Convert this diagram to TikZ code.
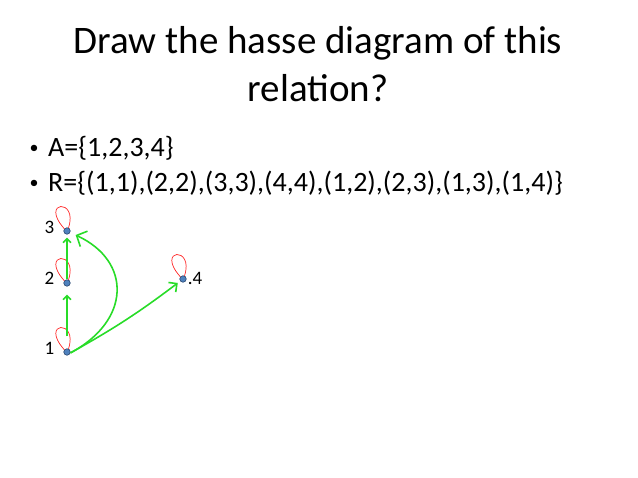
\documentclass[tikz,border=0pt]{standalone}
\usepackage{fontspec}
\setmainfont{Carlito}
\usepackage{xcolor}
\usetikzlibrary{arrows.meta, positioning}

\definecolor{hassegreen}{RGB}{40,220,40}
\definecolor{dotblue}{RGB}{79,129,189}
\definecolor{dotedge}{RGB}{40,70,110}

\begin{document}
\begin{tikzpicture}[x=1pt, y=1pt,
  dot/.style={circle, fill=dotblue, draw=dotedge, line width=0.6pt, inner sep=0pt, minimum size=6.5pt},
  lbl/.style={inner sep=0pt, font=\fontsize{19}{21}\selectfont},
  title/.style={inner sep=0pt, anchor=base, font=\fontsize{39}{46}\selectfont},
  item/.style={inner sep=0pt, font=\fontsize{28}{34}\selectfont},
  hasse/.style={hassegreen, line width=1.6pt, -{Straight Barb[length=4pt, width=8pt]}},
  refl/.style={red!85!white, line width=0.7pt}]
\useasboundingbox (0,0) rectangle (638,478);

% heading and text
\node[title] (t1) at (318,424) {Draw the hasse diagram of this};
\node[title] (t2) at (318,376) {relation?};
\node[item, anchor=base west] (setA) at (48,321) {A=\{1,2,3,4\}};
\node[item, anchor=base, font=\fontsize{18}{22}\selectfont] (b1) at (34,324) {\textbullet};
\node[item, anchor=base west] (relR) at (48,286) {R=\{(1,1),(2,2),(3,3),(4,4),(1,2),(2,3),(1,3),(1,4)\}};
\node[item, anchor=base, font=\fontsize{18}{22}\selectfont] (b2) at (34,289) {\textbullet};

% the elements
\node[dot] (n1) at (67,126) {};
\node[dot] (n2) at (67,195) {};
\node[dot] (n3) at (67,247) {};
\node[dot] (n4) at (183,199) {};
\node[lbl, left=9pt of n1, yshift=4pt] (l1) {1};
\node[lbl, left=9pt of n2, yshift=5pt] (l2) {2};
\node[lbl, left=9pt of n3, yshift=4pt] (l3) {3};
\node[lbl, right=1pt of n4, yshift=1pt] (l4) {.4};

% reflexive pairs
\foreach \n in {n1,n2,n3,n4}
  \draw[refl] (\n.140) .. controls +(-25,28) and +(10,30) .. (\n.65);

% covering pairs
\draw[hasse, shorten <=12pt, shorten >=8pt] (n1) -- (n2);
\draw[hasse, shorten >=3pt] (n2) -- (n3);
\draw[hasse, -{Straight Barb[length=8pt, width=17pt]}, shorten >=6pt]
  (n1.-15) to[out=28, in=-25, looseness=1.45] (n3);
\draw[hasse, -{Straight Barb[length=6pt, width=12pt]}, shorten >=3pt]
  (n1.-15) to[bend right=4] (n4);
\end{tikzpicture}
\end{document}
